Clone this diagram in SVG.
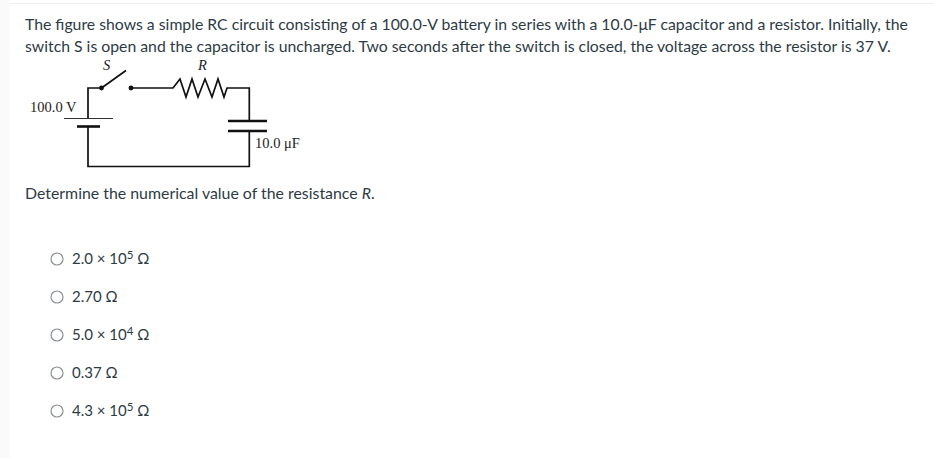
<svg xmlns="http://www.w3.org/2000/svg" width="934" height="458" viewBox="0 0 934 458">
<style>
.t{font-family:Lato,"Noto Sans",sans-serif;font-size:15.79px;fill:#2d3b45}
.d{font-size:15.88px}
.o{font-family:Lato,"Noto Sans",sans-serif;font-size:15px;fill:#2d3b45}
.s{font-size:11.5px}
.c{font-family:"Liberation Serif",serif;font-size:14.5px;fill:#222}
.w{fill:none;stroke:#111;stroke-width:1.7}
.r{fill:#fff;stroke:#8a8f94;stroke-width:1.2}
</style>
<rect width="934" height="458" fill="#fff"/>
<rect x="0" y="0" width="10" height="458" fill="#fafafa"/>
<rect x="10" y="3" width="924" height="1" fill="#eeeeee"/>
<text class="t" x="25" y="30">The figure shows a simple RC circuit consisting of a 100.0-V battery in series with a 10.0-μF capacitor and a resistor. Initially, the</text>
<text class="t" x="25" y="52">switch S is open and the capacitor is uncharged. Two seconds after the switch is closed, the voltage across the resistor is 37 V.</text>
<g id="connectors">
<path class="w" d="M88 118.500V88H101.500M131 88H173L180 79L186 97L192 79L198 97L205 79L212 97L218 79L224 97L227 88H249.300V121M249.300 131V166.500H88V126.500"/>
<path class="w" d="M101.500 88L126 70.500" stroke-width="2"/>
</g>
<g id="switch"><circle cx="101.500" cy="88" r="2.400" fill="#111"/><circle cx="131" cy="88" r="2.400" fill="#111"/><text class="c" x="103" y="70" font-style="italic">S</text></g>
<g id="resistor"><text class="c" x="198" y="70" font-style="italic">R</text></g>
<g id="battery"><path d="M64 118.500H113" stroke="#333" stroke-width="1"/><path d="M77 126.500H100" stroke="#111" stroke-width="2.600"/><text class="c" x="30" y="112">100.0 V</text></g>
<g id="capacitor"><path d="M228 121H267M228 131H267" stroke="#111" stroke-width="2.600"/><text class="c" x="255" y="148">10.0 μF</text></g>
<text class="t d" x="25" y="199">Determine the numerical value of the resistance <tspan font-style="italic">R</tspan>.</text>
<g id="options">
<circle class="r" cx="57" cy="259" r="6"/><text class="o" x="72" y="264">2.0 × 10<tspan class="s" dy="-5">5</tspan><tspan dy="5"> Ω</tspan></text>
<circle class="r" cx="57" cy="297" r="6"/><text class="o" x="72" y="302">2.70 Ω</text>
<circle class="r" cx="57" cy="335" r="6"/><text class="o" x="72" y="340">5.0 × 10<tspan class="s" dy="-5">4</tspan><tspan dy="5"> Ω</tspan></text>
<circle class="r" cx="57" cy="373" r="6"/><text class="o" x="72" y="378">0.37 Ω</text>
<circle class="r" cx="57" cy="411" r="6"/><text class="o" x="72" y="416">4.3 × 10<tspan class="s" dy="-5">5</tspan><tspan dy="5"> Ω</tspan></text>
</g>
</svg>
